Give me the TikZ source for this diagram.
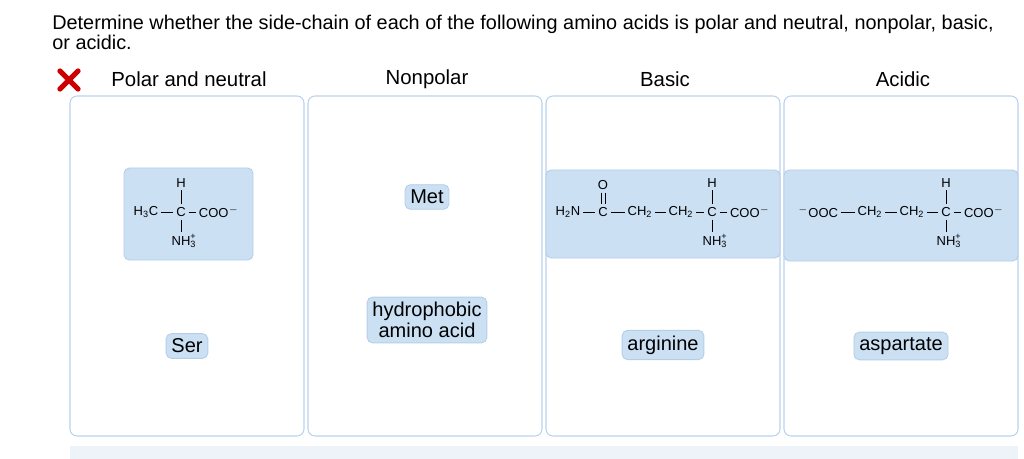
\documentclass[tikz,border=0pt]{standalone}
\usepackage{fontspec}
\setmainfont{Liberation Sans}
\usetikzlibrary{positioning}
\definecolor{tileblue}{HTML}{CCE0F4}
\definecolor{tileedge}{HTML}{B4CEE8}
\definecolor{coledge}{HTML}{B8D2EE}
\definecolor{barfill}{HTML}{EEF3F9}
\newcommand{\ammon}{NH\rlap{\textsuperscript{+}}\textsubscript{3}}
\newcommand{\chtwo}{CH\textsubscript{2}}
\newcommand{\minus}{\textsuperscript{$-$}}
\tikzset{
  column/.style={draw=coledge, rounded corners=4pt, line width=0.6pt},
  tile/.style={fill=tileblue, draw=tileedge, rounded corners=3pt, line width=0.5pt},
  label/.style={font=\fontsize{11.4}{11}\selectfont, inner sep=3pt},
  head/.style={font=\fontsize{11.6}{12}\selectfont, inner sep=0pt},
  atom/.style={font=\fontsize{7.4}{7.4}\selectfont, inner sep=1pt},
  bond/.style={line width=0.45pt, shorten >=0.5pt, shorten <=0.5pt}
}
\begin{document}
\begin{tikzpicture}[x=0.02cm, y=-0.02cm]
\useasboundingbox (0,0) rectangle (1024,459);

% Question
\node[anchor=west, align=left, font=\fontsize{11.3}{11.3}\selectfont, inner sep=0pt] (question) at (52,32)
  {Determine whether the side-chain of each of the following amino acids is polar and neutral, nonpolar, basic,\\or acidic.};

% Red mark
\draw[red!80!black, line width=3pt, line cap=round] (60,71) -- (78,89) (78,71) -- (60,89);

% Columns and headings
\foreach \x/\name/\title in {70/polar/{Polar and neutral}, 308/nonpolar/{Nonpolar}, 546/basic/{Basic}, 784/acidic/{Acidic}} {
  \draw[column] (\x,96) rectangle (\x+234,436);
  \node[head] (\name) at (\x+119,79) {\title};
}
\fill[barfill] (70,446) rectangle (1018,459);

% Tiles
\draw[tile] (124,168) rectangle (253,260);
\draw[tile] (546,170) rectangle (780,258);
\draw[tile] (784,170) rectangle (1018,261);
\node[tile, label] (met) at (427,197) {Met};
\node[tile, label, align=center, font=\fontsize{11.4}{10}\selectfont] (hydro) at (427,320) {hydrophobic\\amino acid};
\node[tile, label] (ser) at (187,346) {Ser};
\node[tile, label] (arg) at (663,345) {arginine};
\node[tile, label] (asp) at (901,346) {aspartate};

% Alanine
\node[atom] (a1) at (146,212) {H\textsubscript{3}C};
\node[atom] (a2) at (181,212) {C};
\node[atom] (a3) at (219,212) {COO\minus};
\node[atom] (a4) at (181,183) {H};
\node[atom] (a5) at (184,241) {\ammon};
\draw[bond] (a1) -- (a2); \draw[bond] (a2) -- (a3);
\draw[bond] (a4) -- (a2); \draw[bond] (a2) -- (a5.north -| a2);

% Glutamine
\node[atom] (g1) at (568,212) {H\textsubscript{2}N};
\node[atom] (g2) at (603,212) {C};
\node[atom] (g3) at (640,212) {\chtwo};
\node[atom] (g4) at (681,212) {\chtwo};
\node[atom] (g5) at (712,212) {C};
\node[atom] (g6) at (750,212) {COO\minus};
\node[atom] (g7) at (603,185) {O};
\node[atom] (g8) at (712,183) {H};
\node[atom] (g9) at (715,241) {\ammon};
\foreach \a/\b in {g1/g2, g2/g3, g3/g4, g4/g5, g5/g6, g8/g5}
  \draw[bond] (\a) -- (\b);
\draw[bond] (g5) -- (g9.north -| g5);
\draw[bond] ([xshift=-1.2pt]g7.south) -- ([xshift=-1.2pt]g2.north);
\draw[bond] ([xshift=1.2pt]g7.south) -- ([xshift=1.2pt]g2.north);

% Aspartate
\node[atom] (d1) at (818,212) {\minus OOC};
\node[atom] (d2) at (870,212) {\chtwo};
\node[atom] (d3) at (912,212) {\chtwo};
\node[atom] (d4) at (946,212) {C};
\node[atom] (d5) at (984,212) {COO\minus};
\node[atom] (d6) at (946,183) {H};
\node[atom] (d7) at (949,241) {\ammon};
\foreach \a/\b in {d1/d2, d2/d3, d3/d4, d4/d5, d6/d4}
  \draw[bond] (\a) -- (\b);
\draw[bond] (d4) -- (d7.north -| d4);

\end{tikzpicture}
\end{document}
